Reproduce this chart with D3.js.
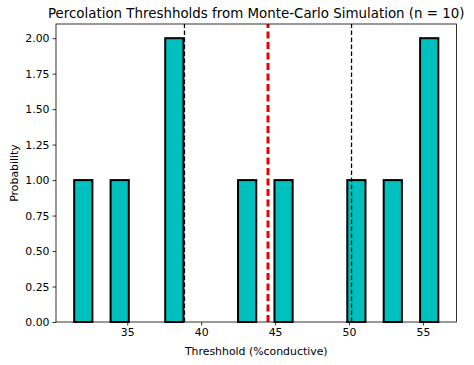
<!DOCTYPE html>
<html><head><meta charset="utf-8">
<script src="https://cdn.jsdelivr.net/npm/d3@7"></script>
<style>body{margin:0;background:#fff}svg{display:block}text{font-family:"DejaVu Sans",sans-serif;fill:#000}</style>
</head><body>
<script>
// Histogram bins (20 bins over data range) and counts
const binStart = 31.41;
const binWidth = 1.2315;
const binIndices = [0, 2, 5, 9, 11, 15, 17, 19];
const counts = [1, 1, 2, 1, 1, 1, 1, 2];
const meanValue = 44.52;
const lowerLine = 38.87;
const upperLine = 50.17;
const xTicks = [35, 40, 45, 50, 55];
const yTicks = [0, 0.25, 0.5, 0.75, 1.0, 1.25, 1.5, 1.75, 2.0];
const titleText = "Percolation Threshholds from Monte-Carlo Simulation (n = 10)";

const W = 474, H = 365;
const m = {l: 56, r: 17.5, t: 24, b: 43};
const svg = d3.select("body").append("svg").attr("width", W).attr("height", H);
const x = d3.scaleLinear().domain([30.18, 57.27]).range([m.l, W - m.r]);
const y = d3.scaleLinear().domain([0, 2.1]).range([H - m.b, m.t]);

const bars = binIndices.map((b, i) => ({x0: binStart + b * binWidth, x1: binStart + (b + 1) * binWidth, c: counts[i]}));

svg.append("g").selectAll("rect").data(bars).join("rect")
  .attr("x", d => x(d.x0)).attr("width", d => x(d.x1) - x(d.x0))
  .attr("y", d => y(d.c)).attr("height", d => y(0) - y(d.c))
  .attr("fill", "#00bfbf").attr("stroke", "#000").attr("stroke-width", 2);

svg.append("line").attr("x1", x(lowerLine)).attr("x2", x(lowerLine)).attr("y1", y(0)).attr("y2", m.t)
  .attr("stroke", "#000").attr("stroke-width", 1.3).attr("stroke-dasharray", "4.5,2.5");
svg.append("line").attr("x1", x(upperLine)).attr("x2", x(upperLine)).attr("y1", y(0)).attr("y2", m.t)
  .attr("stroke", "#000").attr("stroke-width", 1.3).attr("stroke-dasharray", "4.5,2.5");
svg.append("line").attr("x1", x(meanValue)).attr("x2", x(meanValue)).attr("y1", y(0)).attr("y2", m.t)
  .attr("stroke", "#ee0000").attr("stroke-width", 3).attr("stroke-dasharray", "7,3.5");

// frame
svg.append("rect").attr("x", m.l).attr("y", m.t).attr("width", W - m.r - m.l).attr("height", H - m.b - m.t)
  .attr("fill", "none").attr("stroke", "#000").attr("stroke-width", 0.8);

const xa = svg.append("g").attr("transform", `translate(0,${H - m.b})`)
  .call(d3.axisBottom(x).tickValues(xTicks).tickSize(3.5).tickPadding(3).tickFormat(d3.format("d")));
const ya = svg.append("g").attr("transform", `translate(${m.l},0)`)
  .call(d3.axisLeft(y).tickValues(yTicks).tickSize(3.5).tickPadding(3).tickFormat(d3.format(".2f")));
[xa, ya].forEach(g => {
  g.select(".domain").remove();
  g.selectAll("line").attr("stroke", "#000").attr("stroke-width", 0.8);
  g.selectAll("text").attr("font-size", "10.9px").attr("font-family", "DejaVu Sans").attr("fill", "#000");
});

svg.append("text").attr("x", (m.l + W - m.r) / 2).attr("y", 17.5).attr("text-anchor", "middle")
  .attr("font-size", "13.4px").text(titleText);
svg.append("text").attr("x", (m.l + W - m.r) / 2).attr("y", 354.5).attr("text-anchor", "middle")
  .attr("font-size", "10.9px").text("Threshhold (%conductive)");
svg.append("text").attr("transform", `translate(17.5,${(m.t + H - m.b) / 2}) rotate(-90)`).attr("text-anchor", "middle")
  .attr("font-size", "10.9px").text("Probability");
</script>
</body></html>
